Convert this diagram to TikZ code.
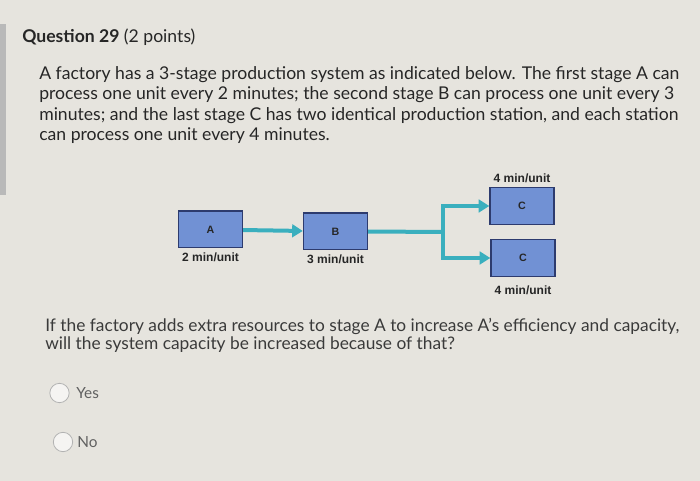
\documentclass[tikz,border=0pt]{standalone}
\usepackage{fontspec}
\setmainfont{Lato}
\newfontfamily\diagfont{Liberation Sans}
\usetikzlibrary{arrows.meta,positioning}
\definecolor{paper}{HTML}{E6E4DE}
\definecolor{boxblue}{HTML}{7191D4}
\definecolor{boxline}{HTML}{2D3B6E}
\definecolor{flowteal}{HTML}{3AAFBE}
\definecolor{ink}{HTML}{262626}
\definecolor{softink}{HTML}{3A3A3A}

\begin{document}
\begin{tikzpicture}[x=0.75pt,y=-0.75pt,
  stagebox/.style={rectangle,fill=boxblue,draw=boxline,line width=1pt,minimum width=48pt,minimum height=27.5pt,font=\diagfont\bfseries\fontsize{8}{9}\selectfont,text=ink},
  ratelabel/.style={font=\diagfont\bfseries\fontsize{9}{10}\selectfont,text=ink},
  flow/.style={draw=flowteal,line width=3pt,-{Triangle[length=8pt,width=9.5pt]}},
  radio/.style={circle,draw=gray!60,fill=white!60!paper,line width=0.6pt,minimum size=14.5pt,inner sep=0pt},
  answer/.style={anchor=base west,font=\fontsize{11.5}{13}\selectfont,text=gray!75!black,inner sep=0pt}
]
\fill[paper] (0,0) rectangle (700,481) ;
\fill[gray!55] (0,24) rectangle (6,195) ;

\node[anchor=base west,inner sep=0pt,font=\fontsize{13.2}{15}\selectfont,text=ink] (title) at (22,43) {\textbf{Question 29} (2 points)} ;
\node[anchor=north west,align=left,inner sep=0pt,font=\fontsize{13.2}{15.4}\selectfont,text=ink] (question) at (39,66)
  {A factory has a 3-stage production system as indicated below. The first stage A can\\
   process one unit every 2 minutes; the second stage B can process one unit every 3\\
   minutes; and the last stage C has two identical production station, and each station\\
   can process one unit every 4 minutes.} ;

% production line
\node [stagebox] (A) at (210.5,229.5) {A} ;
\node [stagebox] (B) at (335.5,231.5) {B} ;
\node [stagebox] (C1) at (522,206) {C} ;
\node [stagebox] (C2) at (523,258) {C} ;
\coordinate (split) at (443,232) ;

\node [ratelabel] (rate A) [below=0pt of A] {2 min/unit} ;
\node [ratelabel] (rate B) [below=0pt of B] {3 min/unit} ;
\node [ratelabel] (rate C1) [above=0pt of C1] {4 min/unit} ;
\node [ratelabel] (rate C2) [below=3pt of C2] {4 min/unit} ;

\draw [flow] (A) -- (B) ;
\draw [draw=flowteal,line width=3pt] (B.east) -- (split) ;
\draw [flow] (split) |- (C1.west) ;
\draw [flow] (split) |- (C2.west) ;

\node[anchor=north west,align=left,inner sep=0pt,font=\fontsize{13}{13.2}\selectfont,text=softink] (followup) at (45,318)
  {If the factory adds extra resources to stage A to increase A's efficiency and capacity,\\
   will the system capacity be increased because of that?} ;

\node [radio] (yes box) at (59.5,393) { } ;
\node [answer] (yes) at (76,398) {Yes} ;
\node [radio] (no box) at (63,442) { } ;
\node [answer] (no) at (77,447) {No} ;
\end{tikzpicture}
\end{document}
